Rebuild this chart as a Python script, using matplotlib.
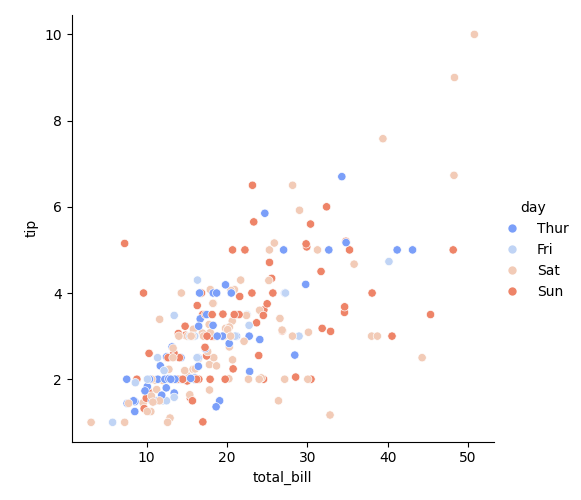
import pandas as pd
import seaborn as sns
import matplotlib
matplotlib.use("Agg")
import matplotlib.pyplot as plt

# datos de propinas (total de la cuenta, propina, dia)
total_bill = [16.99, 10.34, 21.01, 23.68, 24.59, 25.29, 8.77, 26.88, 15.04, 14.78,
              10.27, 35.26, 15.42, 18.43, 14.83, 21.58, 10.33, 16.29, 16.97, 20.65,
              17.92, 20.29, 15.77, 39.42, 19.82, 17.81, 13.37, 12.69, 21.7, 19.65,
              9.55, 18.35, 15.06, 20.69, 17.78, 24.06, 16.31, 16.93, 18.69, 31.27,
              16.04, 17.46, 13.94, 9.68, 30.4, 18.29, 22.23, 32.4, 28.55, 18.04,
              12.54, 10.29, 34.81, 9.94, 25.56, 19.49, 38.01, 26.41, 11.24, 48.27,
              20.29, 13.81, 11.02, 18.29, 17.59, 20.08, 16.45, 3.07, 20.23, 15.01,
              12.02, 17.07, 26.86, 25.28, 14.73, 10.51, 17.92, 27.2, 22.76, 17.29,
              19.44, 16.66, 10.07, 32.68, 15.98, 34.83, 13.03, 18.28, 24.71, 21.16,
              28.97, 22.49, 5.75, 16.32, 22.75, 40.17, 27.28, 12.03, 21.01, 12.46,
              11.35, 15.38, 44.3, 22.42, 20.92, 15.36, 20.49, 25.21, 18.24, 14.31,
              14.0, 7.25, 38.07, 23.95, 25.71, 17.31, 29.93, 10.65, 12.43, 24.08,
              11.69, 13.42, 14.26, 15.95, 12.48, 29.8, 8.52, 14.52, 11.38, 22.82,
              19.08, 20.27, 11.17, 12.26, 18.26, 8.51, 10.33, 14.15, 16.0, 13.16,
              17.47, 34.3, 41.19, 27.05, 16.43, 8.35, 18.64, 11.87, 9.78, 7.51,
              14.07, 13.13, 17.26, 24.55, 19.77, 29.85, 48.17, 25.0, 13.39, 16.49,
              21.5, 12.66, 16.21, 13.81, 17.51, 24.52, 20.76, 31.71, 10.59, 10.63,
              50.81, 15.81, 7.25, 31.85, 16.82, 32.9, 17.89, 14.48, 9.6, 34.63,
              34.65, 23.33, 45.35, 23.17, 40.55, 20.69, 20.9, 30.46, 18.15, 23.1,
              15.69, 19.81, 28.44, 15.48, 16.58, 7.56, 10.34, 43.11, 13.0, 13.51,
              18.71, 12.74, 13.0, 16.4, 20.53, 16.47, 26.59, 38.73, 24.27, 12.76,
              30.06, 25.89, 48.33, 13.27, 28.17, 12.9, 28.15, 11.59, 7.74, 30.14,
              12.16, 13.42, 8.58, 15.98, 13.42, 16.27, 10.09, 20.45, 13.28, 22.12,
              24.01, 15.69, 11.61, 10.77, 15.53, 10.07, 12.6, 32.83, 35.83, 29.03,
              27.18, 22.67, 17.82, 18.78]
tip = [1.01, 1.66, 3.5, 3.31, 3.61, 4.71, 2.0, 3.12, 1.96, 3.23,
       1.71, 5.0, 1.57, 3.0, 3.02, 3.92, 1.67, 3.71, 3.5, 3.35,
       4.08, 2.75, 2.23, 7.58, 3.18, 2.34, 2.0, 2.0, 4.3, 3.0,
       1.45, 2.5, 3.0, 2.45, 3.27, 3.6, 2.0, 3.07, 2.31, 5.0,
       2.24, 2.54, 3.06, 1.32, 5.6, 3.0, 5.0, 6.0, 2.05, 3.0,
       2.5, 2.6, 5.2, 1.56, 4.34, 3.51, 3.0, 1.5, 1.76, 6.73,
       3.21, 2.0, 1.98, 3.76, 2.64, 3.15, 2.47, 1.0, 2.01, 2.09,
       1.97, 3.0, 3.14, 5.0, 2.2, 1.25, 3.08, 4.0, 3.0, 2.71,
       3.0, 3.4, 1.83, 5.0, 2.03, 5.17, 2.0, 4.0, 5.85, 3.0,
       3.0, 3.5, 1.0, 4.3, 3.25, 4.73, 4.0, 1.5, 3.0, 1.5,
       2.5, 3.0, 2.5, 3.48, 4.08, 1.64, 4.06, 4.29, 3.76, 4.0,
       3.0, 1.0, 4.0, 2.55, 4.0, 3.5, 5.07, 1.5, 1.8, 2.92,
       2.31, 1.68, 2.5, 2.0, 2.52, 4.2, 1.48, 2.0, 2.0, 2.18,
       1.5, 2.83, 1.5, 2.0, 3.25, 1.25, 2.0, 2.0, 2.0, 2.75,
       3.5, 6.7, 5.0, 5.0, 2.3, 1.5, 1.36, 1.63, 1.73, 2.0,
       2.5, 2.0, 2.74, 2.0, 2.0, 5.14, 5.0, 3.75, 2.61, 2.0,
       3.5, 2.5, 2.0, 2.0, 3.0, 3.48, 2.24, 4.5, 1.61, 2.0,
       10.0, 3.16, 5.15, 3.18, 4.0, 3.11, 2.0, 2.0, 4.0, 3.55,
       3.68, 5.65, 3.5, 6.5, 3.0, 5.0, 3.5, 2.0, 3.5, 4.0,
       1.5, 4.19, 2.56, 2.02, 4.0, 1.44, 2.0, 5.0, 2.0, 2.0,
       4.0, 2.01, 2.0, 2.5, 4.0, 3.23, 3.41, 3.0, 2.03, 2.23,
       2.0, 5.16, 9.0, 2.5, 6.5, 1.1, 3.0, 1.5, 1.44, 3.09,
       2.2, 3.48, 1.92, 3.0, 1.58, 2.5, 2.0, 3.0, 2.72, 2.88,
       2.0, 3.0, 3.39, 1.47, 3.0, 1.25, 1.0, 1.17, 4.67, 5.92,
       2.0, 2.0, 1.75, 3.0]
day = (["Sun"] * 19 + ["Sat"] * 22 + ["Sun"] * 15 + ["Sat"] * 21 + ["Thur"] * 13
       + ["Fri"] * 12 + ["Sat"] * 10 + ["Sun"] * 5 + ["Thur"] * 33 + ["Sun"] * 18
       + ["Sat"] * 4 + ["Sun"] * 19 + ["Thur"] * 15 + ["Sat"] * 14 + ["Fri"] * 7
       + ["Sat"] * 16 + ["Thur"] * 1)
dias = ["Thur", "Fri", "Sat", "Sun"]

tips = pd.DataFrame({"total_bill": total_bill, "tip": tip, "day": day})

g = sns.relplot(data=tips, x="total_bill", y="tip", hue="day",
                hue_order=dias, palette="coolwarm")
g.figure.set_size_inches(5.81, 5.0)
g.figure.savefig("out.png", dpi=100)
